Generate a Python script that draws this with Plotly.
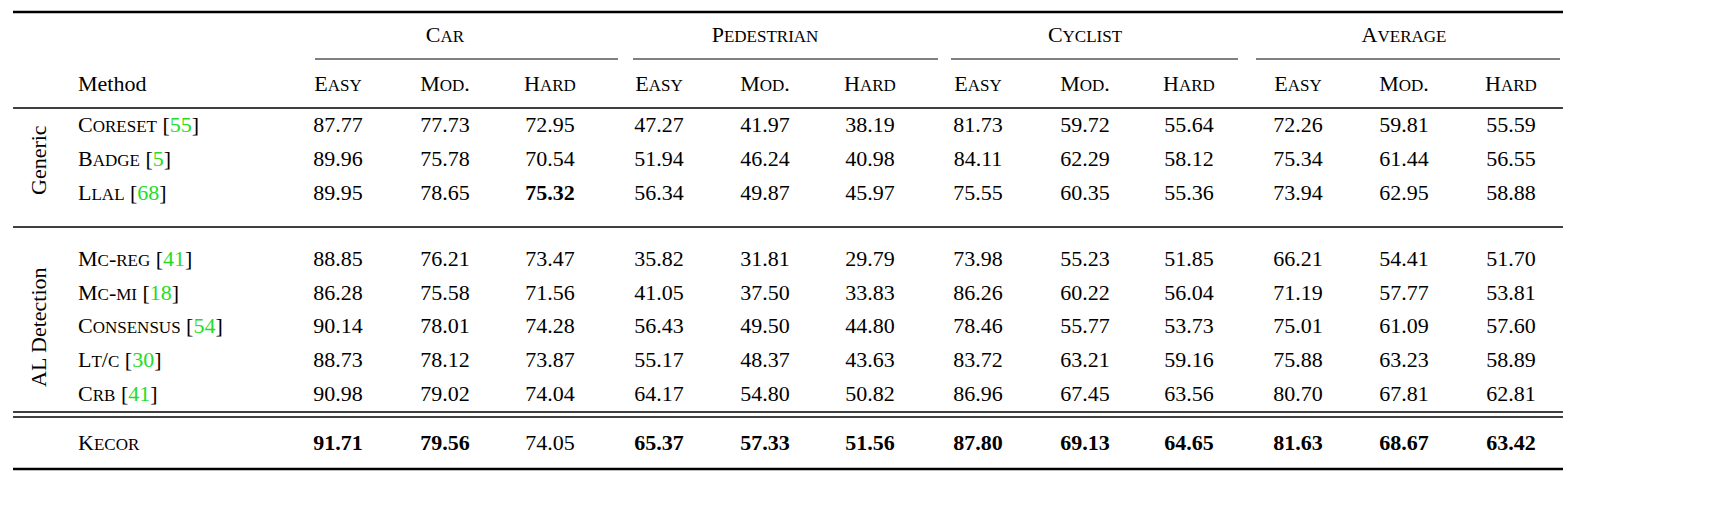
import plotly.graph_objects as go

groups = ["Car", "Pedestrian", "Cyclist", "Average"]
levels = ["Easy", "Mod.", "Hard"]
methods = ["Coreset", "Badge", "Llal", "Mc-reg", "Mc-mi", "Consensus", "Lt/c", "Crb", "Kecor"]
cites = ["55", "5", "68", "41", "18", "54", "30", "41", ""]
values = [
    [87.77, 77.73, 72.95, 47.27, 41.97, 38.19, 81.73, 59.72, 55.64, 72.26, 59.81, 55.59],
    [89.96, 75.78, 70.54, 51.94, 46.24, 40.98, 84.11, 62.29, 58.12, 75.34, 61.44, 56.55],
    [89.95, 78.65, 75.32, 56.34, 49.87, 45.97, 75.55, 60.35, 55.36, 73.94, 62.95, 58.88],
    [88.85, 76.21, 73.47, 35.82, 31.81, 29.79, 73.98, 55.23, 51.85, 66.21, 54.41, 51.70],
    [86.28, 75.58, 71.56, 41.05, 37.50, 33.83, 86.26, 60.22, 56.04, 71.19, 57.77, 53.81],
    [90.14, 78.01, 74.28, 56.43, 49.50, 44.80, 78.46, 55.77, 53.73, 75.01, 61.09, 57.60],
    [88.73, 78.12, 73.87, 55.17, 48.37, 43.63, 83.72, 63.21, 59.16, 75.88, 63.23, 58.89],
    [90.98, 79.02, 74.04, 64.17, 54.80, 50.82, 86.96, 67.45, 63.56, 80.70, 67.81, 62.81],
    [91.71, 79.56, 74.05, 65.37, 57.33, 51.56, 87.80, 69.13, 64.65, 81.63, 68.67, 63.42],
]

# layout positions (pixels)
col_x = [330, 437, 542, 651, 757, 862, 970, 1077, 1181, 1290, 1396, 1503]
row_y = [118, 152, 186, 252, 286, 319, 353, 387, 436]
FS = 22
FONT = "Liberation Serif"


def sc(word, size=FS):
    out = ""
    for ch in word:
        if ch.islower():
            out += f"<span style='font-size:{int(size*0.78)}px'>{ch.upper()}</span>"
        else:
            out += ch
    return out


col_max = [max(r[j] for r in values) for j in range(len(col_x))]

fig = go.Figure()

xs, ys, ts = [], [], []
for i, row in enumerate(values):
    for j, v in enumerate(row):
        s = f"{v:.2f}"
        xs.append(col_x[j]); ys.append(row_y[i])
        ts.append(f"<b>{s}</b>" if v == col_max[j] else s)
fig.add_trace(go.Scatter(x=xs, y=ys, text=ts, mode="text",
                         textfont=dict(family=FONT, size=FS, color="black"),
                         hoverinfo="skip", showlegend=False))

# method names (plus header "Method")
mt = ["Method"]
for m, c in zip(methods, cites):
    t = sc(m)
    if c:
        t += f" [<span style='color:#22dd22'>{c}</span>]"
    mt.append(t)
fig.add_trace(go.Scatter(x=[70] * len(mt), y=[77] + row_y, text=mt, mode="text",
                         textposition="middle right",
                         textfont=dict(family=FONT, size=FS, color="black"),
                         hoverinfo="skip", showlegend=False))

# headers
hx, hy, ht = [], [], []
for g, gname in enumerate(groups):
    hx.append(col_x[g * 3 + 1]); hy.append(28); ht.append(sc(gname))
    for k, lv in enumerate(levels):
        hx.append(col_x[g * 3 + k]); hy.append(77); ht.append(sc(lv))
fig.add_trace(go.Scatter(x=hx, y=hy, text=ht, mode="text",
                         textfont=dict(family=FONT, size=FS, color="black"),
                         hoverinfo="skip", showlegend=False))
fig.add_annotation(x=30, y=152, text="Generic", showarrow=False, textangle=-90,
                   font=dict(family=FONT, size=FS, color="black"))
fig.add_annotation(x=30, y=319, text="AL Detection", showarrow=False, textangle=-90,
                   font=dict(family=FONT, size=FS, color="black"))

# rules
def hline(y, x0=5, x1=1555, w=1.3):
    fig.add_shape(type="line", x0=x0, x1=x1, y0=y, y1=y, line=dict(color="black", width=w))

hline(4, w=2.5)
for a, b in [(307, 610), (625, 930), (943, 1230), (1248, 1552)]:
    hline(51, a, b, w=1)
hline(100)
hline(219)
hline(404)
hline(409)
hline(461, w=2.5)

fig.update_xaxes(range=[0, 1714], visible=False, fixedrange=True)
fig.update_yaxes(range=[505, 0], visible=False, fixedrange=True)
fig.update_layout(width=1714, height=505, margin=dict(l=0, r=0, t=0, b=0),
                  plot_bgcolor="white", paper_bgcolor="white")
fig.write_html("out.html")
